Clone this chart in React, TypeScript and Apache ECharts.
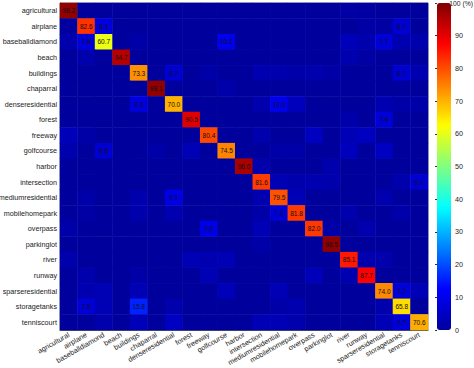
import React, { useEffect, useRef } from "react";
import * as echarts from "echarts";

const categories = [
  "agricultural", "airplane", "baseballdiamond", "beach", "buildings", "chaparral",
  "denseresidential", "forest", "freeway", "golfcourse", "harbor", "intersection",
  "mediumresidential", "mobilehomepark", "overpass", "parkinglot", "river", "runway",
  "sparseresidential", "storagetanks", "tenniscourt",
];

// rows = true class, columns = predicted class (percent)
const rowAgricultural = [98.2, 0, 0, 0, 0, 0, 0, 0, 0, 0, 0, 0, 0, 0, 0, 0, 1.0, 0.8, 0, 0, 0];
const rowAirplane = [0.5, 82.6, 8.1, 0, 0, 0, 0, 0, 0, 0, 0, 0, 0, 0, 0, 0, 0, 1.2, 0.9, 6.7, 0];
const rowBaseball = [2.0, 7.8, 60.7, 0, 1.5, 0, 0, 0, 0, 10.1, 0, 0, 0, 0, 0, 0, 3.5, 2.0, 7.7, 2.5, 2.2];
const rowBeach = [0, 2.0, 0, 94.7, 0, 0, 0, 0, 0, 0, 0, 0, 0, 0, 0, 0, 2.3, 1.0, 0, 0, 0];
const rowBuildings = [0, 0, 0, 0, 73.3, 0, 6.7, 0, 1.5, 0, 0, 2.5, 2.0, 1.5, 2.0, 1.3, 0, 0, 0, 6.7, 2.5];
const rowChaparral = [0, 0, 0, 0, 0, 98.1, 0, 0, 0, 1.9, 0, 0, 0, 0, 0, 0, 0, 0, 0, 0, 0];
const rowDense = [0, 0, 0, 0, 8.3, 0, 70.0, 0, 0, 0, 0, 2.0, 10.0, 4.0, 0, 0, 0, 0, 2.5, 1.7, 1.5];
const rowForest = [0, 0, 0, 0, 0, 0, 0, 90.5, 0, 0, 0, 0, 0, 0, 0, 0, 1.9, 0, 7.6, 0, 0];
const rowFreeway = [3.5, 1.6, 0, 0, 0, 0, 0, 0, 80.4, 0, 0, 2.0, 0, 0, 4.5, 0, 3.0, 4.6, 0, 0, 0];
const rowGolf = [2.0, 0, 6.8, 0, 0, 1.5, 0, 3.0, 0, 74.5, 0, 0, 1.5, 1.7, 0, 0, 4.0, 0, 4.8, 0, 0];
const rowHarbor = [0, 0, 0, 0, 0, 0, 0, 0, 0, 0, 96.0, 2.0, 0, 0, 0, 2.0, 0, 0, 0, 0, 0];
const rowIntersection = [0, 0, 0, 0, 0, 0, 0, 0, 0, 0, 0, 81.6, 3.0, 2.0, 2.5, 2.2, 0, 0, 0, 2.0, 6.7];
const rowMedium = [0, 1.5, 0, 0, 2.0, 0, 9.1, 0, 0, 0, 0, 2.5, 79.5, 3.0, 0, 0, 0, 0, 2.4, 0, 0];
const rowMobile = [0, 1.0, 0, 0, 2.0, 0, 2.5, 0, 0, 0, 0, 1.5, 7.3, 81.8, 0, 0, 2.0, 0, 0, 1.9, 0];
const rowOverpass = [1.5, 0, 0, 0, 0, 0, 0, 0, 9.6, 0, 0, 3.0, 0, 0, 82.0, 1.5, 0, 2.4, 0, 0, 0];
const rowParking = [0, 0, 0, 0, 0, 0, 0, 0, 0, 0, 0, 1.5, 0, 0, 0, 98.5, 0, 0, 0, 0, 0];
const rowRiver = [2.0, 0, 0, 0, 0, 0, 0, 3.0, 2.5, 3.0, 0, 0, 0, 0, 0, 0, 85.1, 2.4, 2.0, 0, 0];
const rowRunway = [0, 2.0, 0, 0, 1.3, 0, 0, 0, 3.0, 0, 0, 0, 0, 0, 3.5, 0, 2.5, 87.7, 0, 0, 0];
const rowSparse = [0, 2.5, 3.0, 0, 3.0, 0, 0, 0, 0, 3.5, 0, 0, 3.3, 0, 0, 0, 0, 0, 74.0, 7.7, 3.0];
const rowStorage = [0, 7.5, 3.0, 0, 15.8, 0, 2.0, 0, 0, 0, 0, 0, 1.5, 2.4, 0, 0, 0, 0, 2.0, 65.8, 0];
const rowTennis = [0, 0, 2.0, 0, 3.5, 0, 4.5, 0, 0, 0, 0, 3.0, 3.2, 2.0, 0, 0, 0, 0, 3.0, 7.7, 70.6];

const matrix = [
  rowAgricultural, rowAirplane, rowBaseball, rowBeach, rowBuildings, rowChaparral,
  rowDense, rowForest, rowFreeway, rowGolf, rowHarbor, rowIntersection, rowMedium,
  rowMobile, rowOverpass, rowParking, rowRiver, rowRunway, rowSparse, rowStorage, rowTennis,
];

const colorbarMin = 0;
const colorbarMax = 100;
const colorbarStep = 10;
const colorbarTopLabel = "100 (%)";

const jet = [
  "#00009c", "#0000ff", "#0080ff", "#00ffff", "#80ff80",
  "#ffff00", "#ff8000", "#ff0000", "#800000",
];

const FONT = "Liberation Sans, Arial, sans-serif";

export default function App() {
  const ref = useRef<HTMLDivElement>(null);
  useEffect(() => {
    if (!ref.current) return;
    const chart = echarts.init(ref.current, null, { renderer: "svg" });
    const data: [number, number, number][] = [];
    matrix.forEach((row, r) => row.forEach((v, c) => data.push([c, r, v])));
    const L = 60, T = 3, W = 368, H = 327;
    const CBL = 437, CBW = 14;
    chart.setOption({
      animation: false,
      backgroundColor: "#ffffff",
      textStyle: { fontFamily: FONT },
      grid: [
        { left: L, top: T, width: W, height: H, show: true, borderColor: "#888", borderWidth: 1, backgroundColor: "transparent", outerBoundsMode: "none", containLabel: false },
        { left: CBL, top: T, width: CBW, height: H, show: false, outerBoundsMode: "none", containLabel: false },
      ],
      graphic: [
        {
          type: "text", right: 1, top: T - 3,
          style: { text: colorbarTopLabel, fontSize: 6.8, fill: "#222", fontFamily: FONT },
        },
      ],
      xAxis: [
        {
          type: "category", data: categories, gridIndex: 0,
          axisLine: { show: true, lineStyle: { color: "#555" } },
          axisTick: { show: false },
          splitLine: { show: false },
          axisLabel: { rotate: 30, fontSize: 7.2, color: "#222", margin: 4, interval: 0, fontFamily: FONT },
        },
        { type: "value", gridIndex: 1, min: 0, max: 1, show: false },
      ],
      yAxis: [
        {
          type: "category", data: categories, gridIndex: 0, inverse: true,
          axisLine: { show: true, lineStyle: { color: "#555" } },
          axisTick: { show: false },
          splitLine: { show: false },
          axisLabel: { fontSize: 7.2, color: "#222", margin: 3, interval: 0, fontFamily: FONT },
        },
        {
          type: "value", gridIndex: 1, min: colorbarMin, max: colorbarMax, interval: colorbarStep, position: "right",
          axisLine: { show: false },
          axisTick: { show: true, inside: true, length: 2, lineStyle: { color: "#333" } },
          splitLine: { show: false },
          axisLabel: {
            show: true, fontSize: 7.2, color: "#222", margin: 4, fontFamily: FONT,
            showMinLabel: true, showMaxLabel: true,
            formatter: (v: number) => (v === colorbarMax ? "" : String(v)),
          },
        },
      ],
      visualMap: {
        type: "continuous", min: colorbarMin, max: colorbarMax, calculable: false, seriesIndex: 0,
        left: CBL, top: T, itemWidth: CBW, itemHeight: H, padding: 0,
        inRange: { color: jet }, hoverLink: false, z: 1,
      },
      series: [
        {
          type: "heatmap", xAxisIndex: 0, yAxisIndex: 0, data,
          label: {
            show: true, fontSize: 6.5, color: "#111", fontFamily: FONT,
            formatter: (p: any) => (p.value[2] >= 6 ? p.value[2].toFixed(1) : ""),
          },
          itemStyle: { borderWidth: 0 },
        },
      ],
    });
    return () => chart.dispose();
  }, []);
  return <div ref={ref} style={{ position: "fixed", left: 0, top: 0, width: 474, height: 368 }} />;
}
